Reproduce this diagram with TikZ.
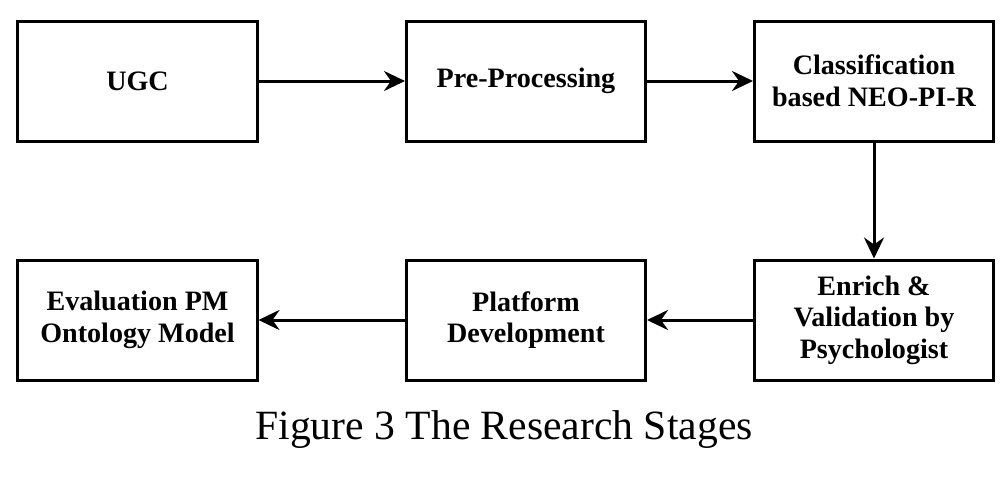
\documentclass[tikz,border=0pt]{standalone}
\usepackage{fontspec}
\setmainfont{Liberation Serif}
\usetikzlibrary{arrows.meta}

\begin{document}
\begin{tikzpicture}[x=0.2mm, y=-0.2mm,
			>={Stealth[length=4.2mm, width=4mm, inset=1.4mm]},   % arrow tips
			stage/.style={draw, line width=0.6mm, minimum width=47.8mm, minimum height=24mm,
				align=center, font=\bfseries\fontsize{16}{18}\selectfont, inner sep=1mm},
			flow/.style={->, line width=0.6mm}]
			% picture area
			\useasboundingbox (0,0) rectangle (1000,478);
			% upper row
			\node[stage] (ugc)   at (137.5,81) {UGC};
			\node[stage] (prep)  at (526,81)   {Pre-Processing};
			\node[stage] (class) at (874,81)   {Classification\\based NEO-PI-R};
			% lower row
			\node[stage] (enrich) at (874,320)  {Enrich \&\\Validation by\\Psychologist};
			\node[stage] (plat)   at (526,320)  {Platform\\Development};
			\node[stage] (eval)   at (137.5,320) {Evaluation PM\\Ontology Model};
			% connectors
			\draw[flow] (ugc) -- (prep);
			\draw[flow] (prep) -- (class);
			\draw[flow] (class) -- (enrich);
			\draw[flow] (enrich) -- (plat);
			\draw[flow] (plat) -- (eval);
			% caption
			\node[font=\fontsize{23.7}{26}\selectfont] (caption) at (504,430) {Figure 3 The Research Stages};
		\end{tikzpicture}
\end{document}
